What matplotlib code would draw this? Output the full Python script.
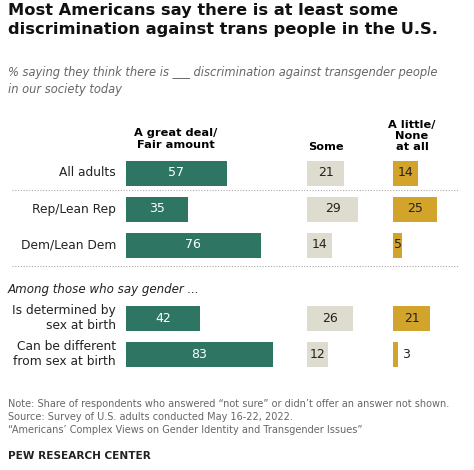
import matplotlib

matplotlib.use("Agg")
import matplotlib.pyplot as plt

GREEN = "#2e7563"
BEIGE = "#dedbcf"
GOLD = "#d3a42c"

rows = ["All adults", "Rep/Lean Rep", "Dem/Lean Dem", "Is determined by\nsex at birth", "Can be different\nfrom sex at birth"]
great = [57, 35, 76, 42, 83]
some = [21, 29, 14, 26, 12]
little = [14, 25, 5, 21, 3]
headers = ["A great deal/\nFair amount", "Some", "A little/\nNone\nat all"]

W, H = 474, 470
fig = plt.figure(figsize=(W / 100, H / 100), dpi=100)
ax = fig.add_axes([0, 0, 1, 1])
ax.set_xlim(0, W)
ax.set_ylim(H, 0)
ax.axis("off")

plt.rcParams["font.family"] = "DejaVu Sans"
SC = 1.77
row_y = [173, 209, 245, 318, 354]
starts = [126, 307, 393]
colors = [GREEN, BEIGE, GOLD]

ax.text(8, 3, "Most Americans say there is at least some\ndiscrimination against trans people in the U.S.",
        fontsize=11.7, fontweight="bold", va="top", ha="left", linespacing=1.3, color="#111")
ax.text(8, 66, "% saying they think there is ___ discrimination against transgender people\nin our society today",
        fontsize=8.3, style="italic", color="#666", va="top", ha="left", linespacing=1.4)

hx = [176, 326, 412]
ax.text(hx[0], 150, headers[0], ha="center", va="bottom", fontsize=8.2, fontweight="bold", linespacing=1.2)
ax.text(hx[1], 152, headers[1], ha="center", va="bottom", fontsize=8.2, fontweight="bold")
ax.text(hx[2], 152, headers[2], ha="center", va="bottom", fontsize=8.2, fontweight="bold", linespacing=1.1)

for vals, x0, c in zip([great, some, little], starts, colors):
    ax.barh(row_y, [v * SC for v in vals], left=x0, height=25, color=c)
    for y, v in zip(row_y, vals):
        w = v * SC
        tc = "white" if c == GREEN else "#222"
        if v < 4:
            ax.text(x0 + w + 4, y, str(v), ha="left", va="center", fontsize=9, color="#222")
        elif v < 8:
            ax.text(x0 + 1, y, str(v), ha="left", va="center", fontsize=9, color="#222")
        else:
            ax.text(x0 + w / 2, y, str(v), ha="center", va="center", fontsize=9, color=tc)

for y, r in zip(row_y, rows):
    ax.text(116, y, r, ha="right", va="center", fontsize=8.8, linespacing=1.2, color="#222")

for y in (190, 266):
    ax.plot([12, 458], [y, y], ls=(0, (1, 1.5)), color="#aaa", lw=0.8)

ax.text(8, 289, "Among those who say gender ...", fontsize=8.6, style="italic", va="center", color="#222")

ax.text(8, 399, "Note: Share of respondents who answered \u201cnot sure\u201d or didn\u2019t offer an answer not shown.\n"
        "Source: Survey of U.S. adults conducted May 16-22, 2022.\n"
        "\u201cAmericans\u2019 Complex Views on Gender Identity and Transgender Issues\u201d",
        fontsize=7, color="#666", va="top", ha="left", linespacing=1.35)
ax.text(8, 456, "PEW RESEARCH CENTER", fontsize=7.6, fontweight="bold", color="#222", va="center")

fig.savefig("out.png", dpi=100)
